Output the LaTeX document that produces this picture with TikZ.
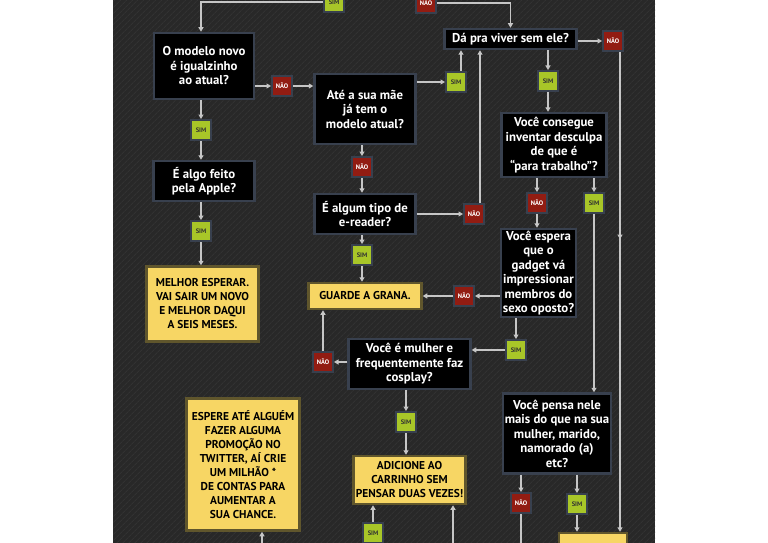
\documentclass[tikz,border=0pt]{standalone}
\usepackage{fontspec}
\setmainfont{PT Sans}
\usetikzlibrary{arrows.meta,patterns.meta,decorations.markings}
\definecolor{panel}{RGB}{40,40,40}
\definecolor{stripe}{RGB}{50,50,50}
\definecolor{halo}{RGB}{56,64,78}
\definecolor{simgreen}{RGB}{168,198,40}
\definecolor{naored}{RGB}{146,28,18}
\definecolor{answer}{RGB}{247,214,100}
\definecolor{answeredge}{RGB}{96,86,44}
\definecolor{wire}{RGB}{198,198,198}
\newcommand\qfont{\fontsize{12.8}{14.5}\selectfont\bfseries}
\newcommand\afont{\fontsize{11.4}{14}\selectfont\bfseries}
\newcommand\tagfont{\fontsize{6.5}{7}\selectfont\bfseries}

\begin{document}
\begin{tikzpicture}[x=1pt,y=-1pt]

\def\tagsize{20pt}

\tikzset{line/.style={draw=wire,line width=1.3pt}}
\tikzset{arrow/.style={line,-{Triangle[length=4.5pt,width=5pt]}}}
\tikzset{midarrow/.style={postaction={decorate},decoration={markings,mark=at position #1 with {\arrow{Triangle[length=4.5pt,width=5pt]}}}}}
\tikzset{question/.style={draw=halo,line width=2.5pt,fill=black,text=white,font=\qfont,align=center,inner sep=0pt}}
\tikzset{answerbox/.style={draw=answeredge,line width=2.5pt,fill=answer,text=black,font=\afont,align=center,inner sep=0pt}}
\tikzset{tag/.style={draw=halo,line width=2pt,minimum width=\tagsize,minimum height=\tagsize,inner sep=0pt,font=\tagfont}}
\tikzset{sim/.style={tag,fill=simgreen,text=black!80}}
\tikzset{nao/.style={tag,fill=naored,text=white}}

\useasboundingbox (0,0) rectangle (768,543);
\fill[white] (0,0) rectangle (768,543);
\clip (113,0) rectangle (655,543);
\fill[panel] (113,0) rectangle (655,543);
\fill[pattern={Lines[angle=45,distance=4pt,line width=1pt]},pattern color=stripe] (113,0) rectangle (655,543);

% top row
\node[sim] (simtop) at (334,2) {SIM};
\node[nao] (naotop) at (426,3) {NÃO};

% left column
\node[question,minimum width=100pt,minimum height=66pt] (novo) at (204,66) {O modelo novo\\é igualzinho\\ao atual?};
\node[sim] (simnovo) at (201,130) {SIM};
\node[question,minimum width=101pt,minimum height=40pt] (apple) at (204,181) {É algo feito\\pela Apple?};
\node[sim] (simapple) at (201,231) {SIM};
\node[answerbox,minimum width=112pt,minimum height=75pt] (melhor) at (202.5,304) {MELHOR ESPERAR.\\VAI SAIR UM NOVO\\E MELHOR DAQUI\\A SEIS MESES.};
\node[answerbox,minimum width=113pt,minimum height=132pt] (espere) at (243,464.5) {ESPERE ATÉ ALGUÉM\\FAZER ALGUMA\\PROMOÇÃO NO\\TWITTER, AÍ CRIE\\UM MILHÃO *\\DE CONTAS PARA\\AUMENTAR A\\SUA CHANCE.};
\coordinate (esperein) at (262,560);

% middle column
\node[nao] (naonovo) at (282,86) {NÃO};
\node[question,minimum width=101pt,minimum height=70pt] (mae) at (365,109) {Até a sua mãe\\já tem o\\modelo atual?};
\node[sim] (simmae) at (456,82) {SIM};
\node[nao] (naomae) at (362,167) {NÃO};
\node[question,minimum width=101pt,minimum height=40pt] (reader) at (365,214) {É algum tipo de\\e-reader?};
\node[nao] (naoreader) at (474,214) {NÃO};
\node[sim] (simreader) at (362,255) {SIM};
\node[answerbox,minimum width=113pt,minimum height=26pt] (guarde) at (365,296) {GUARDE A GRANA.};
\node[nao] (naomulher) at (323,362) {NÃO};
\node[question,minimum width=122pt,minimum height=50pt] (mulher) at (409.5,364) {Você é mulher e\\frequentemente faz\\cosplay?};
\node[sim] (simmulher) at (406,422) {SIM};
\node[answerbox,minimum width=112pt,minimum height=48pt] (carrinho) at (409.5,480) {ADICIONE AO\\CARRINHO SEM\\PENSAR DUAS VEZES!};
\node[sim] (simcarr) at (373,533) {SIM};
\node[sim] (simfundo) at (453,554) {};

% right column
\node[question,minimum width=132pt,minimum height=20pt] (viver) at (510.5,39) {Dá pra viver sem ele?};
\node[nao] (naoviver) at (613,41) {NÃO};
\node[sim] (simviver) at (548,81) {SIM};
\node[question,minimum width=105pt,minimum height=64pt] (desculpa) at (554,145) {Você consegue\\inventar desculpa\\de que é\\“para trabalho”?};
\node[nao] (naodesc) at (537,203) {NÃO};
\node[sim] (simdesc) at (594,203) {SIM};
\node[question,minimum width=75pt,minimum height=88pt] (espera) at (538.5,273) {Você espera\\que o\\gadget vá\\impressionar\\membros do\\sexo oposto?};
\node[nao] (naoespera) at (464,296) {NÃO};
\node[sim] (simespera) at (516,350) {SIM};
\node[question,minimum width=108pt,minimum height=80pt] (pensa) at (557,433.5) {Você pensa nele\\mais do que na sua\\mulher, marido,\\namorado (a)\\etc?};
\node[nao] (naopensa) at (521,503) {NÃO};
\node[sim] (simpensa) at (577,504) {SIM};
\node[answerbox,minimum width=68pt,minimum height=40pt] (fim) at (593,553) {};
\coordinate (naopensaout) at (521,560);

% connectors
\path[arrow] (simtop.west) -| ([xshift=-3pt]novo.north);
\path[arrow] (naotop.east) -| (viver.north);

\path[arrow] ([xshift=-3pt]novo.south) -- (simnovo.north);
\path[arrow] (simnovo.south) -- (apple.north -| simnovo);
\path[arrow] (apple.south -| simapple) -- (simapple.north);
\path[arrow] (simapple.south) -- (melhor.north -| simapple);
\path[arrow] (esperein) -- (espere.south -| esperein);

\path[arrow] (naonovo -| novo.east) -- (naonovo.west);
\path[arrow] (naonovo.east) -- (naonovo -| mae.west);
\path[arrow] (simmae -| mae.east) -- (simmae.west);
\path[arrow] ([xshift=5pt]simmae.north) -- ([xshift=5pt]simmae.north |- viver.south);
\path[arrow] (mae.south -| naomae) -- (naomae.north);
\path[arrow] (naomae.south) -- (reader.north -| naomae);
\path[arrow] (reader.east |- naoreader) -- (naoreader.west);
\path[arrow] ([xshift=6pt]naoreader.north) -- ([xshift=6pt]naoreader.north |- viver.south);
\path[arrow] (reader.south -| simreader) -- (simreader.north);
\path[arrow] (simreader.south) -- (guarde.north -| simreader);
\path[arrow] (naomulher -| mulher.west) -- (naomulher.east);
\path[arrow] (naomulher.north) -- (naomulher |- guarde.south);
\path[arrow] (mulher.south -| simmulher) -- (simmulher.north);
\path[arrow] (simmulher.south) -- (carrinho.north -| simmulher);
\path[arrow] (simcarr.north) -- (simcarr |- carrinho.south);
\path[arrow] (simfundo.north) -- (simfundo |- carrinho.south);

\path[arrow] (naoviver -| viver.east) -- (naoviver.west);
\path[arrow,midarrow=0.39] ([xshift=7pt]naoviver.south) -- ([xshift=7pt]naoviver.south |- fim.north);
\path[arrow] (viver.south -| simviver) -- (simviver.north);
\path[arrow] (simviver.south) -- (desculpa.north -| simviver);
\path[arrow] (desculpa.south -| naodesc) -- (naodesc.north);
\path[arrow] (naodesc.south) -- (espera.north -| naodesc);
\path[arrow] (desculpa.south -| simdesc) -- (simdesc.north);
\path[arrow] (simdesc.south) -- (pensa.north -| simdesc);
\path[arrow] (naoespera -| espera.west) -- (naoespera.east);
\path[arrow] (naoespera.west) -- (naoespera -| guarde.east);
\path[arrow] (espera.south -| simespera) -- (simespera.north);
\path[arrow] (simespera.west) -- (simespera -| mulher.east);
\path[arrow] (pensa.south -| naopensa) -- (naopensa.north);
\path[line] (naopensa.south) -- (naopensaout);
\path[arrow] (pensa.south -| simpensa) -- (simpensa.north);
\path[arrow] (simpensa.south) -- (fim.north -| simpensa);

\end{tikzpicture}
\end{document}
